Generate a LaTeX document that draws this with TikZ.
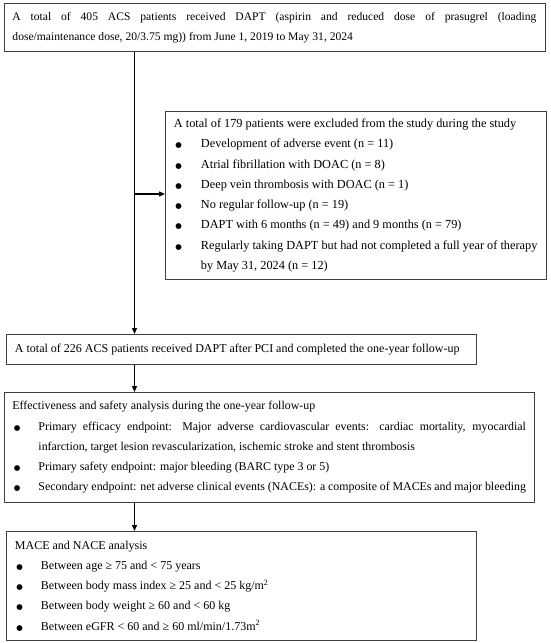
\documentclass[tikz,border=0pt]{standalone}
\usepackage{fontspec}
\setmainfont{Liberation Serif}
\newfontfamily\djv{DejaVu Sans}
\usetikzlibrary{arrows.meta}
\newcommand\bul{{\djv\fontsize{7.5}{7.5}\selectfont ●}}
\newenvironment{blist}[1][27pt]{\list{\bul}{\leftmargin=#1\labelwidth=#1\labelsep=0pt\itemsep=0pt\parsep=0pt\topsep=0pt\partopsep=0pt\itemindent=0pt\listparindent=0pt\rightmargin=0pt\def\makelabel##1{\hspace{1.5pt}##1\hfil}}}{\endlist}
\begin{document}
\begin{tikzpicture}[x=1pt,y=-1pt,
  box/.style={draw=black!75, line width=0.9pt, anchor=north west, inner xsep=8.5pt, inner ysep=0pt,
    align=justify, font=\fontsize{12}{20.3}\selectfont},
  arr/.style={line width=1.3pt, -{Triangle[length=6pt,width=5pt]}}]
\useasboundingbox (0,0) rectangle (550,643);
\node[box, text width=524pt, minimum height=48pt, font=\fontsize{11.6}{20}\selectfont] (b1) at (3.5,3)
 {A total of 405 ACS patients received DAPT (aspirin and reduced dose of prasugrel (loading\linebreak dose/maintenance dose, 20/3.75 mg)) from June 1, 2019 to May 31, 2024};
\node[box, text width=364pt, minimum height=168pt, font=\fontsize{12.3}{20.3}\selectfont] (ex) at (165,111)
 {A total of 179 patients were excluded from the study during the study
 \begin{blist}
 \item Development of adverse event (n = 11)
 \item Atrial fibrillation with DOAC (n = 8)
 \item Deep vein thrombosis with DOAC (n = 1)
 \item No regular follow-up (n = 19)
 \item DAPT with 6 months (n = 49) and 9 months (n = 79)
 \item Regularly taking DAPT but had not completed a full year of therapy\newline by May 31, 2024 (n = 12)
 \end{blist}};
\node[box, text width=453pt, minimum height=30pt] (b2) at (6,334)
 {\mbox{A total of 226 ACS patients received DAPT after PCI and completed the one-year follow-up}};
\node[box, text width=513.5pt, minimum height=110pt, font=\fontsize{11.9}{20.3}\selectfont] (b3) at (3.5,392)
 {Effectiveness and safety analysis during the one-year follow-up
 \begin{blist}[26pt]
 \item Primary efficacy endpoint: Major adverse cardiovascular events: cardiac mortality, myocardial\linebreak infarction, target lesion revascularization, ischemic stroke and stent thrombosis
 \item Primary safety endpoint: major bleeding (BARC type 3 or 5)
 \item Secondary endpoint: net adverse clinical events (NACEs): a composite of MACEs and major bleeding
 \end{blist}};
\node[box, text width=453pt, minimum height=109pt] (b4) at (6,531)
 {MACE and NACE analysis
 \begin{blist}[26pt]
 \item Between age ≥ 75 and < 75 years
 \item Between body mass index ≥ 25 and < 25 kg/m\textsuperscript{2}
 \item Between body weight ≥ 60 and < 60 kg
 \item Between eGFR < 60 and ≥ 60 ml/min/1.73m\textsuperscript{2}
 \end{blist}};
\coordinate (j) at (134.5,194);
\draw[arr] (b1.south -| j) -- (b2.north -| j);
\draw[arr] (j) -- (j -| ex.west);
\draw[arr] (b2.south -| j) -- (b3.north -| j);
\draw[arr] (b3.south -| j) -- (b4.north -| j);
\end{tikzpicture}
\end{document}
